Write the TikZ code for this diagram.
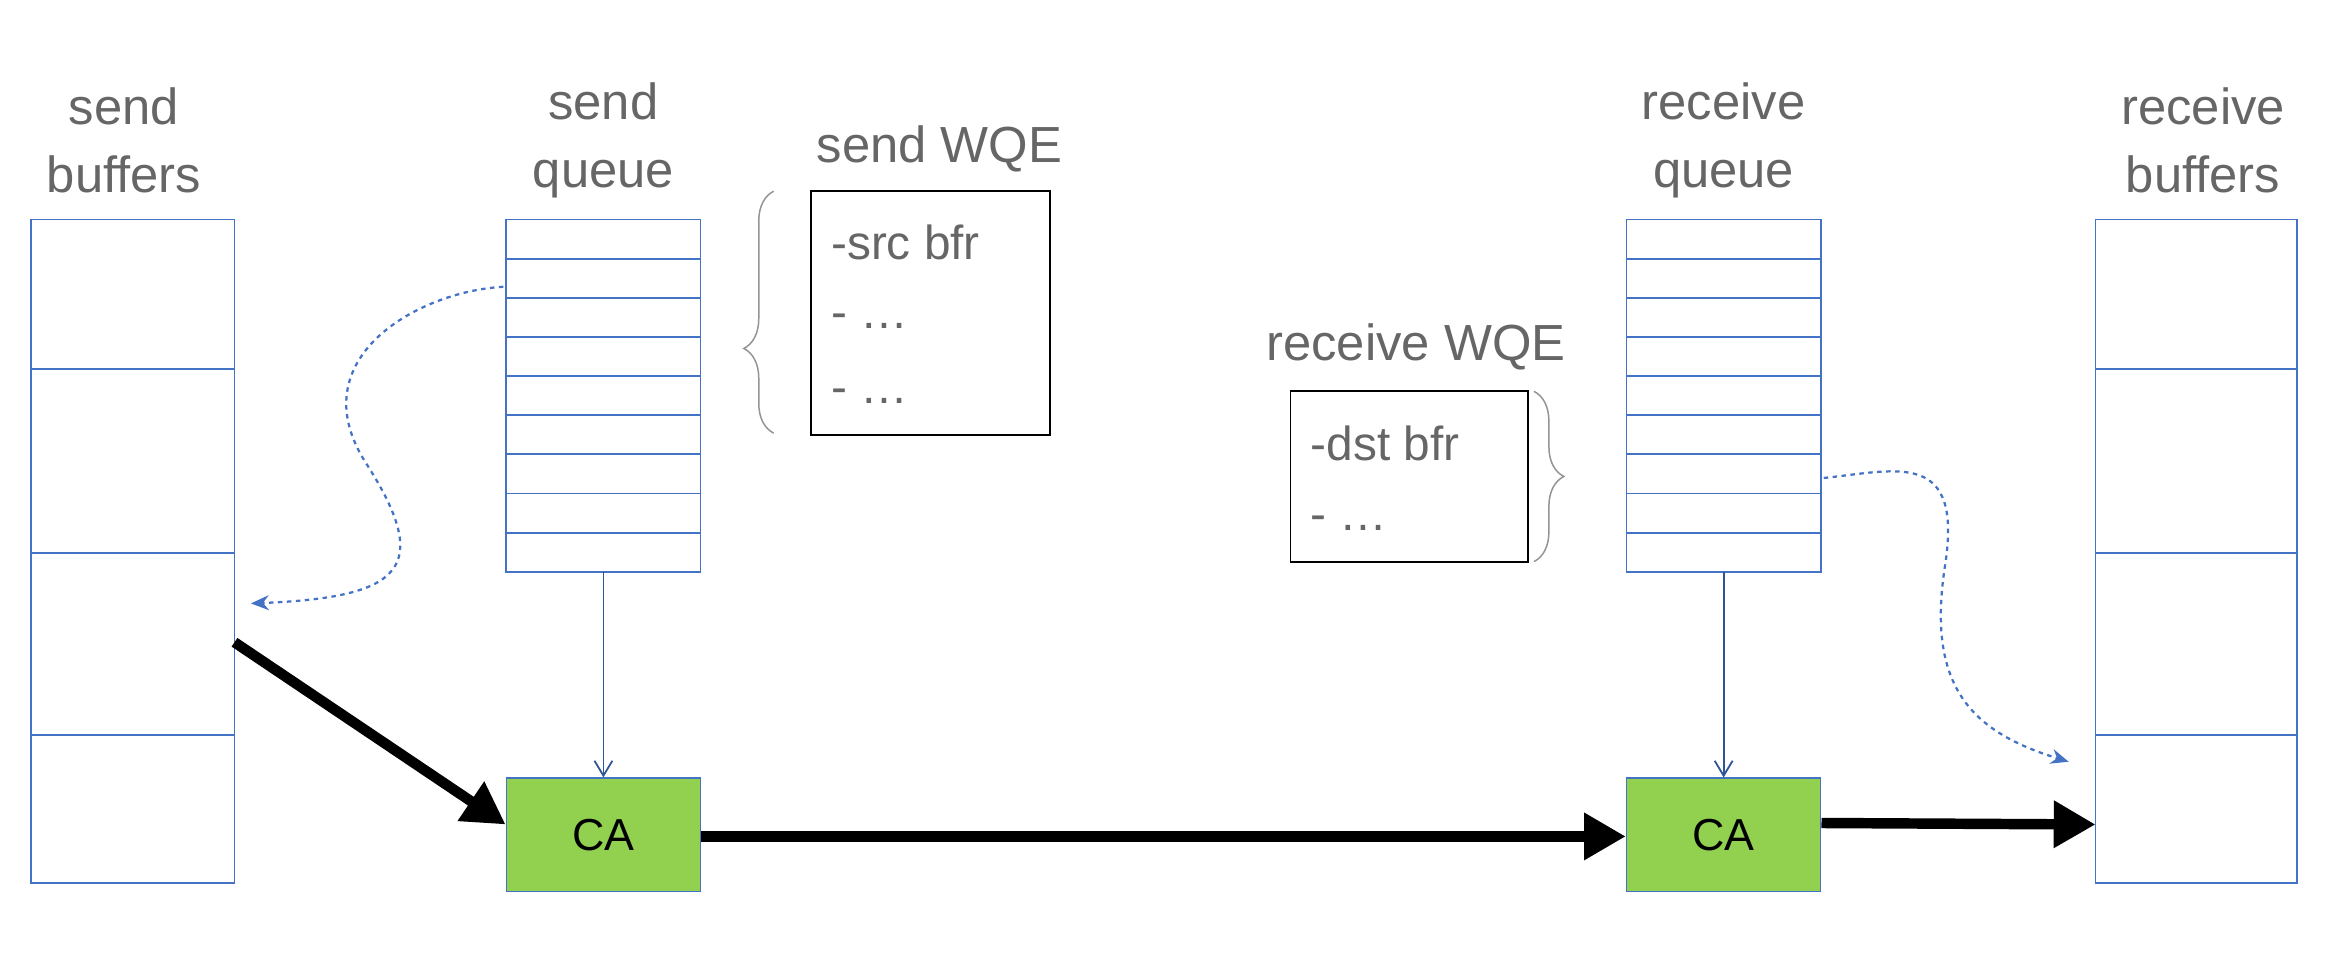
\documentclass[tikz,border=0pt]{standalone}
\usepackage{fontspec}
\setmainfont{Liberation Sans}
\usetikzlibrary{arrows.meta,decorations.pathreplacing}
\definecolor{gtext}{HTML}{666666}
\definecolor{bl}{HTML}{4472C4}
\definecolor{dbl}{HTML}{2F5597}
\definecolor{gr}{HTML}{92D050}
\begin{document}
\begin{tikzpicture}[x=1pt,y=-1pt,
 lab/.style={text=gtext,font=\fontsize{34}{46}\selectfont,align=center},
 wqe/.style={text=gtext,font=\fontsize{32}{40}\selectfont,anchor=west},
 cell/.style={draw=bl,line width=1.2pt},
 ca/.style={draw=bl,fill=gr,line width=1pt,minimum width=130pt,minimum height=76pt,font=\fontsize{30}{36}\selectfont,inner sep=0pt},
 bigarrow/.style={line width=7pt,-{Triangle[length=28pt,width=30pt]}},
 dasharrow/.style={draw=bl,dashed,line width=1.5pt,-{Stealth[length=12pt,width=10pt]}},
 thinarrow/.style={draw=dbl,line width=1.2pt,-{Straight Barb[length=10pt,width=12pt]}},
 bracestyle/.style={draw=gtext!70,line width=1pt,decorate,decoration={brace,amplitude=20pt}}]
\useasboundingbox (0,0) rectangle (1568,648);
% send buffers
\draw[cell] (21,147) rectangle (157,591);
\foreach \y in {247,370,492} \draw[cell] (21,\y) -- (157,\y);
\coordinate (sbA) at (157,430);
\coordinate (sbT) at (168,404);
% receive buffers
\draw[cell] (1403,147) rectangle (1538,591);
\foreach \y in {247,370,492} \draw[cell] (1403,\y) -- (1538,\y);
\coordinate (rbA) at (1403,552);
\coordinate (rbT) at (1385,510);
% queues
\foreach \xx/\n in {339/sq,1089/rq}{
 \draw[cell] (\xx,147) rectangle (\xx+130,383);
 \foreach \i in {1,...,8} \draw[cell] (\xx,147+\i*26.2) -- (\xx+130,147+\i*26.2);
 \coordinate (\n) at (\xx+65,383);
}
\coordinate (sqd) at (337,192);
\coordinate (rqd) at (1221,320);
% CAs
\node[ca] (ca1) at (404,559) {CA};
\node[ca] (ca2) at (1154,559) {CA};
\draw[thinarrow] (sq) -- (ca1.north);
\draw[thinarrow] (rq) -- (ca2.north);
\draw[bigarrow] (sbA) -- (ca1.west |- 0,552);
\draw[bigarrow] (ca1.east |- 0,560) -- (ca2.west |- 0,560);
\draw[bigarrow] (ca2.east |- 0,551) -- (rbA);
\draw[dasharrow] (sqd) .. controls (280,195) and (200,240) .. (245,310) .. controls (290,380) and (270,400) .. (sbT);
\draw[dasharrow] (rqd) .. controls (1270,315) and (1315,300) .. (1302,380) .. controls (1290,460) and (1320,490) .. (rbT);
% labels
\node[lab] (l1) at (83,94) {send\\buffers};
\node[lab] (l2) at (404,94) {send\\queue};
\node[lab] (l3) at (1154,94) {receive\\queue};
\node[lab] (l4) at (1475,94) {receive\\buffers};
\node[lab] (l5) at (629,100) {send WQE};
\node[lab] (l6) at (948,232) {receive WQE};
% WQE boxes
\draw[line width=1.2pt] (543,128) rectangle (703,291);
\node[wqe] at (553,162) {-src bfr};
\node[wqe] at (553,215) {- \dots};
\node[wqe] at (553,265) {- \dots};
\draw[line width=1.2pt] (864,262) rectangle (1023,376);
\node[wqe] at (874,297) {-dst bfr};
\node[wqe] at (874,350) {- \dots};
\draw[bracestyle,decoration={aspect=0.35}] (518,290) -- (518,128);
\draw[bracestyle] (1027,262) -- (1027,376);
\end{tikzpicture}
\end{document}
